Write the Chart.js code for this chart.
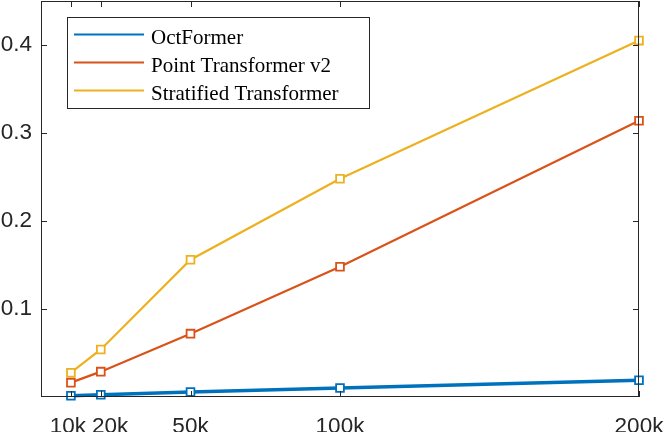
<!DOCTYPE html>
<html>
<head>
<meta charset="utf-8">
<script src="https://cdn.jsdelivr.net/npm/chart.js@4.4.0/dist/chart.umd.min.js"></script>
<style>
  html, body { margin: 0; padding: 0; background: #fff; }
  #wrap { width: 664px; height: 432px; }
</style>
</head>
<body>
<div id="wrap"><canvas id="myChart" width="664" height="432"></canvas></div>
<script>
let xValues = [10000, 20000, 50000, 100000, 200000];
let xTickLabels = ['10k', '20k', '50k', '100k', '200k'];
let yTicks = [0.1, 0.2, 0.3, 0.4];
let seriesNames = ['OctFormer', 'Point Transformer v2', 'Stratified Transformer'];
let octFormer = [0.0015, 0.0026, 0.0057, 0.0102, 0.019];
let pointTransformerV2 = [0.0163, 0.0288, 0.072, 0.148, 0.314];
let stratifiedTransformer = [0.0276, 0.054, 0.156, 0.248, 0.405];
let colorHex = ['#0072BD', '#D95319', '#EDB120'];

const axisColor = '#262626';
const tickFont = { family: '"Liberation Sans", Arial, sans-serif', size: 22.5 };

function points(values) {
  return values.map((v, i) => ({ x: xValues[i], y: v }));
}

function makeDataset(i, values, width) {
  return {
    label: seriesNames[i],
    data: points(values),
    borderColor: colorHex[i],
    backgroundColor: '#fff',
    borderWidth: width,
    pointStyle: 'rect',
    pointRadius: 5.5,
    pointBorderWidth: 1.8,
    pointBackgroundColor: '#fff',
    pointBorderColor: colorHex[i],
    tension: 0,
    clip: false
  };
}

// the first two x labels sit close together, spread them like the original
function xLabel(value) {
  let s = xTickLabels[xValues.indexOf(value)];
  if (value === 10000) return s + ' ';
  if (value === 20000) return '   ' + s;
  return s;
}

// MATLAB-like box with inward tick marks on all four sides
const boxAxes = {
  id: 'boxAxes',
  afterLayout(chart) {
    // pin the plot area to fixed edges
    const a = chart.chartArea, x = chart.scales.x, y = chart.scales.y;
    a.top = 1; a.right = 639;
    a.height = a.bottom - a.top; a.width = a.right - a.left;
    y.top = 1; y.height = y.bottom - y.top; y.configure();
    x.right = 639; x.width = x.right - x.left; x.configure();
  },
  afterDatasetsDraw(chart) {
    const { ctx, chartArea: a, scales } = chart;
    ctx.save();
    ctx.strokeStyle = axisColor;
    ctx.lineWidth = 1;
    ctx.strokeRect(a.left + 0.5, a.top + 0.5, a.right - a.left - 1, a.bottom - a.top - 1);
    const len = 6;
    ctx.beginPath();
    xValues.forEach(v => {
      const px = Math.round(scales.x.getPixelForValue(v)) + 0.5;
      ctx.moveTo(px, a.bottom); ctx.lineTo(px, a.bottom - len);
      ctx.moveTo(px, a.top); ctx.lineTo(px, a.top + len);
    });
    yTicks.forEach(v => {
      const py = Math.round(scales.y.getPixelForValue(v)) + 0.5;
      ctx.moveTo(a.left, py); ctx.lineTo(a.left + len, py);
      ctx.moveTo(a.right, py); ctx.lineTo(a.right - len, py);
    });
    ctx.stroke();
    ctx.restore();
  },
  afterDraw(chart) {
    // legend box in the upper left of the axes
    const { ctx } = chart;
    const bx = 67, by = 17, bw = 302, bh = 91;
    ctx.save();
    ctx.fillStyle = '#fff';
    ctx.fillRect(bx, by, bw, bh);
    ctx.strokeStyle = axisColor;
    ctx.lineWidth = 1;
    ctx.strokeRect(bx + 0.5, by + 0.5, bw, bh);
    ctx.font = '21px "Liberation Serif", "Times New Roman", serif';
    ctx.fillStyle = '#000';
    ctx.textBaseline = 'alphabetic';
    chart.data.datasets.forEach((ds, i) => {
      const base = 43.5 + i * 28;
      ctx.strokeStyle = ds.borderColor;
      ctx.lineWidth = 2;
      ctx.beginPath();
      ctx.moveTo(74, base - 9);
      ctx.lineTo(144, base - 9);
      ctx.stroke();
      ctx.fillText(ds.label, 151, base);
    });
    ctx.restore();
  }
};

let ctx = document.getElementById('myChart').getContext('2d');
let myChart = new Chart(ctx, {
  type: 'line',
  data: {
    datasets: [
      makeDataset(0, octFormer, 3.5),
      makeDataset(1, pointTransformerV2, 2.2),
      makeDataset(2, stratifiedTransformer, 2.2)
    ]
  },
  options: {
    responsive: false,
    animation: false,
    layout: { padding: { top: 1, right: 25, left: 0, bottom: 0 } },
    plugins: {
      legend: { display: false },
      tooltip: { enabled: false }
    },
    scales: {
      x: {
        type: 'linear',
        min: 0,
        max: 200000,
        grid: { display: false, drawTicks: false },
        border: { display: false },
        afterBuildTicks: (scale) => {
          scale.ticks = xValues.map(v => ({ value: v }));
        },
        afterFit: (scale) => { scale.height = 35; },
        ticks: {
          autoSkip: false,
          maxRotation: 0,
          padding: 16,
          color: axisColor,
          font: tickFont,
          callback: xLabel
        }
      },
      y: {
        min: 0,
        max: 0.45,
        grid: { display: false, drawTicks: false },
        border: { display: false },
        afterBuildTicks: (scale) => {
          scale.ticks = yTicks.map(v => ({ value: v }));
        },
        afterFit: (scale) => { scale.width = 41; },
        ticks: {
          padding: 9,
          color: axisColor,
          font: tickFont,
          callback: (value) => value.toFixed(1)
        }
      }
    }
  },
  plugins: [boxAxes]
});
</script>
</body>
</html>
